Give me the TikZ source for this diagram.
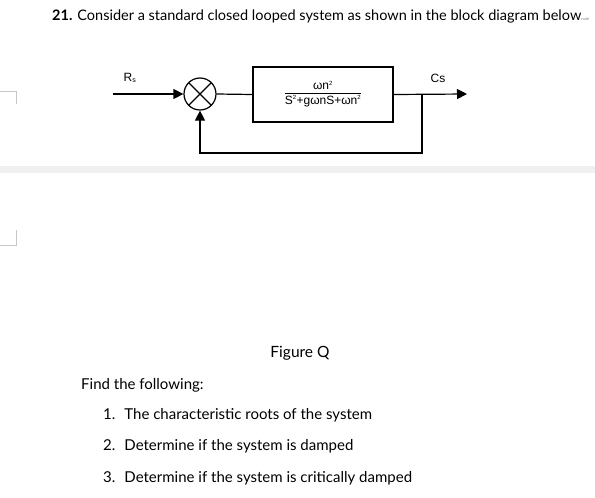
\documentclass[tikz,border=0pt]{standalone}
\usepackage{fontspec}
\setmainfont{Lato}
\newfontfamily\diagfont{Liberation Sans}
\usetikzlibrary{positioning,arrows.meta}
\newcommand{\sqr}{\textsuperscript{\fontsize{6}{6}\selectfont 2}}

\begin{document}
\begin{tikzpicture}[x=1pt,y=-1pt,
  sumnode/.style={draw,line width=1.2pt,circle,minimum size=32pt,inner sep=0pt,
    path picture={\draw[line width=1.2pt]
      (path picture bounding box.north west) -- (path picture bounding box.south east)
      (path picture bounding box.north east) -- (path picture bounding box.south west);}},
  plant/.style={draw,line width=1.2pt,minimum width=140pt,minimum height=55pt,inner sep=0pt,font=\diagfont\fontsize{12}{13}\selectfont},
  sig/.style={line width=1.2pt,-{Triangle[length=10pt,width=10pt]}},
  wire/.style={line width=1.2pt},
  sigtext/.style={font=\diagfont\fontsize{12}{14}\selectfont},
  bodytext/.style={anchor=base west,inner sep=0pt,font=\fontsize{15}{18}\selectfont},
  cornermark/.style={draw=gray!45,line width=1pt}
]
\useasboundingbox (0,0) rectangle (595,498);

% question heading
\node[anchor=base west,inner sep=0pt,font=\fontsize{14.5}{17}\selectfont] (title) at (52,20)
  {\textbf{21.} Consider a standard closed looped system as shown in the block diagram below{\fontsize{4}{4}\selectfont\color{gray} note}};

% page decorations
\draw[cornermark] (0,91) -- (16,91) -- (16,104);
\draw[cornermark] (16,230) -- (16,245) -- (0,245);
\fill[gray!12] (0,166) rectangle (595,173);

% block diagram
\coordinate (in) at (113,94);
\node[sumnode] (sum) at (200,94) {};
\node[plant] (G) at (323,94.5) {\raisebox{6pt}{\setlength{\tabcolsep}{0pt}\begin{tabular}{c}
  ωn\sqr\\[-1pt]\hline\rule{0pt}{11pt}S\sqr+gωnS+ωn\sqr\end{tabular}}};
\coordinate (branch) at (422,94);
\coordinate (out) at (467,94);
\coordinate (fbr) at (422,153);
\coordinate (fbl) at (200,153);

\draw[sig] (in) -- (sum.west);
\draw[wire] (sum.east) -- (G.west);
\draw[sig] (G.east) -- (out);
\draw[sig] (branch) -- (fbr) -- (fbl) -- (sum.south);

\node[sigtext] (rs) at (130,78) {R\textsubscript{\fontsize{7}{7}\selectfont s}};
\node[sigtext] (cs) at (438,78) {Cs};

% question text
\node[anchor=base,inner sep=0pt,font=\fontsize{15.5}{18}\selectfont] (fig) at (300,357) {Figure Q};
\node[bodytext] (find) at (81,389) {Find the following:};
\node[bodytext] (q1) at (103,419) {1.\hspace{9pt}The characteristic roots of the system};
\node[bodytext] (q2) at (103,450) {2.\hspace{9pt}Determine if the system is damped};
\node[bodytext] (q3) at (103,482) {3.\hspace{9pt}Determine if the system is critically damped};
\end{tikzpicture}
\end{document}
